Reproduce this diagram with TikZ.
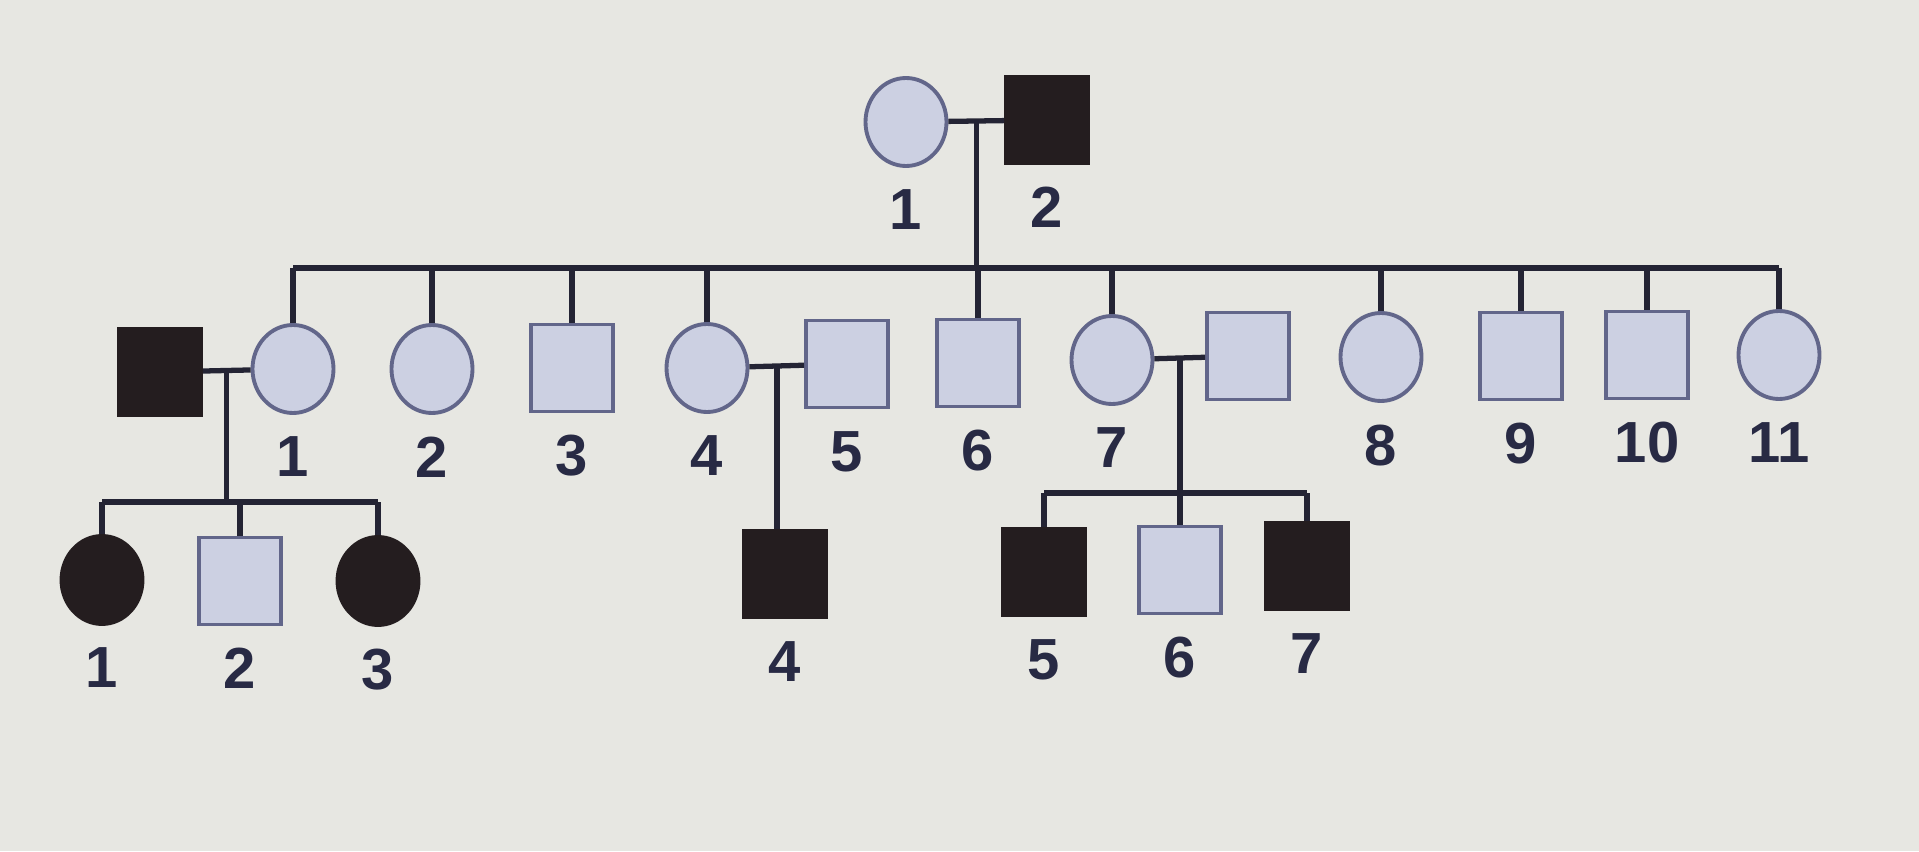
\documentclass[tikz,border=0pt]{standalone}
\usepackage{fontspec}
\setmainfont{Liberation Sans}
\usepackage{tikz}
\usetikzlibrary{calc, shapes, positioning}
\definecolor{bgcol}{RGB}{231,231,226}
\definecolor{opencol}{RGB}{204,208,226}
\definecolor{rimcol}{RGB}{98,102,138}
\definecolor{linecol}{RGB}{36,36,52}
\definecolor{affcol}{RGB}{36,29,31}
\definecolor{numcol}{RGB}{40,42,68}
\tikzset{male/.style={rectangle, draw=rimcol, fill=opencol, line width=1.1pt, minimum width=0.82cm, minimum height=0.87cm, inner sep=0pt}}
\tikzset{female/.style={ellipse, draw=rimcol, fill=opencol, line width=1.1pt, minimum width=0.81cm, minimum height=0.88cm, inner sep=0pt}}
\tikzset{affmale/.style={male, draw=affcol, fill=affcol}}
\tikzset{afffemale/.style={female, draw=affcol, fill=affcol}}
\tikzset{num/.style={inner sep=0pt, text=numcol, font=\fontsize{16.5}{18}\selectfont\bfseries}}
\tikzset{famline/.style={draw=linecol, line width=1.5pt}}

\begin{document}
\begin{tikzpicture}[scale=1]
\fill[bgcol] (0,0) rectangle (19.19,8.51);
% generation I
\node[female] (i1) at (9.06, 7.29) {};
\node[affmale] (i2) at (10.47, 7.31) {};
\node[num, below=0.21cm of i1] (ni1) {1};
\node[num, below=0.21cm of i2] (ni2) {2};
% generation II
\node[affmale] (iisp) at (1.60, 4.79) {};
\node[female] (ii1) at (2.93, 4.82) {};
\node[female] (ii2) at (4.32, 4.82) {};
\node[male] (ii3) at (5.72, 4.83) {};
\node[female] (ii4) at (7.07, 4.83) {};
\node[male] (ii5) at (8.47, 4.87) {};
\node[male] (ii6) at (9.78, 4.88) {};
\node[female] (ii7) at (11.12, 4.91) {};
\node[male] (ii7sp) at (12.48, 4.95) {};
\node[female] (ii8) at (13.81, 4.94) {};
\node[male] (ii9) at (15.21, 4.95) {};
\node[male] (ii10) at (16.47, 4.96) {};
\node[female] (ii11) at (17.79, 4.96) {};
\node[num, below=0.21cm of ii1] (nii1) {1};
\node[num, below=0.21cm of ii2] (nii2) {2};
\node[num, below=0.21cm of ii3] (nii3) {3};
\node[num, below=0.21cm of ii4] (nii4) {4};
\node[num, below=0.21cm of ii5] (nii5) {5};
\node[num, below=0.21cm of ii6] (nii6) {6};
\node[num, below=0.21cm of ii7] (nii7) {7};
\node[num, below=0.21cm of ii8] (nii8) {8};
\node[num, below=0.21cm of ii9] (nii9) {9};
\node[num, below=0.21cm of ii10] (nii10) {10};
\node[num, below=0.21cm of ii11] (nii11) {11};
% generation III
\node[afffemale] (iii1) at (1.02, 2.71) {};
\node[male] (iii2) at (2.40, 2.70) {};
\node[afffemale] (iii3) at (3.78, 2.70) {};
\node[affmale] (iii4) at (7.85, 2.77) {};
\node[affmale] (iii5) at (10.44, 2.79) {};
\node[male] (iii6) at (11.80, 2.81) {};
\node[affmale] (iii7) at (13.07, 2.85) {};
\node[num, below=0.21cm of iii1] (niii1) {1};
\node[num, below=0.21cm of iii2] (niii2) {2};
\node[num, below=0.21cm of iii3] (niii3) {3};
\node[num, below=0.21cm of iii4] (niii4) {4};
\node[num, below=0.21cm of iii5] (niii5) {5};
\node[num, below=0.21cm of iii6] (niii6) {6};
\node[num, below=0.21cm of iii7] (niii7) {7};

% I-1 x I-2 and their eleven children
\coordinate (m1) at ($(i1)!0.5!(i2)$);
\coordinate (s1) at (m1 |- 0,5.83);
\draw[famline] (i1) -- (i2);
\draw[famline] (m1) -- (s1);
\draw[famline] (ii1.north |- s1) -- (ii11.north |- s1);
\draw[famline] (ii1.north) -- (ii1.north |- s1);
\draw[famline] (ii2.north) -- (ii2.north |- s1);
\draw[famline] (ii3.north) -- (ii3.north |- s1);
\draw[famline] (ii4.north) -- (ii4.north |- s1);
\draw[famline] (ii6.north) -- (ii6.north |- s1);
\draw[famline] (ii7.north) -- (ii7.north |- s1);
\draw[famline] (ii8.north) -- (ii8.north |- s1);
\draw[famline] (ii9.north) -- (ii9.north |- s1);
\draw[famline] (ii10.north) -- (ii10.north |- s1);
\draw[famline] (ii11.north) -- (ii11.north |- s1);

% II-1 and spouse
\coordinate (m2) at ($(iisp)!0.5!(ii1)$);
\coordinate (s2) at (m2 |- 0,3.49);
\draw[famline] (iisp) -- (ii1);
\draw[famline] (m2) -- (s2);
\draw[famline] (iii1.north |- s2) -- (iii3.north |- s2);
\draw[famline] (iii1.north) -- (iii1.north |- s2);
\draw[famline] (iii2.north) -- (iii2.north |- s2);
\draw[famline] (iii3.north) -- (iii3.north |- s2);

% II-4 x II-5
\coordinate (m3) at ($(ii4)!0.5!(ii5)$);
\draw[famline] (ii4) -- (ii5);
\draw[famline] (m3) -- (m3 |- iii4.north);

% II-7 and spouse
\coordinate (m4) at ($(ii7)!0.5!(ii7sp)$);
\coordinate (s4) at (m4 |- 0,3.58);
\draw[famline] (ii7) -- (ii7sp);
\draw[famline] (m4) -- (s4);
\draw[famline] (iii5.north |- s4) -- (iii7.north |- s4);
\draw[famline] (iii5.north) -- (iii5.north |- s4);
\draw[famline] (iii6.north) -- (iii6.north |- s4);
\draw[famline] (iii7.north) -- (iii7.north |- s4);

\end{tikzpicture}
\end{document}
